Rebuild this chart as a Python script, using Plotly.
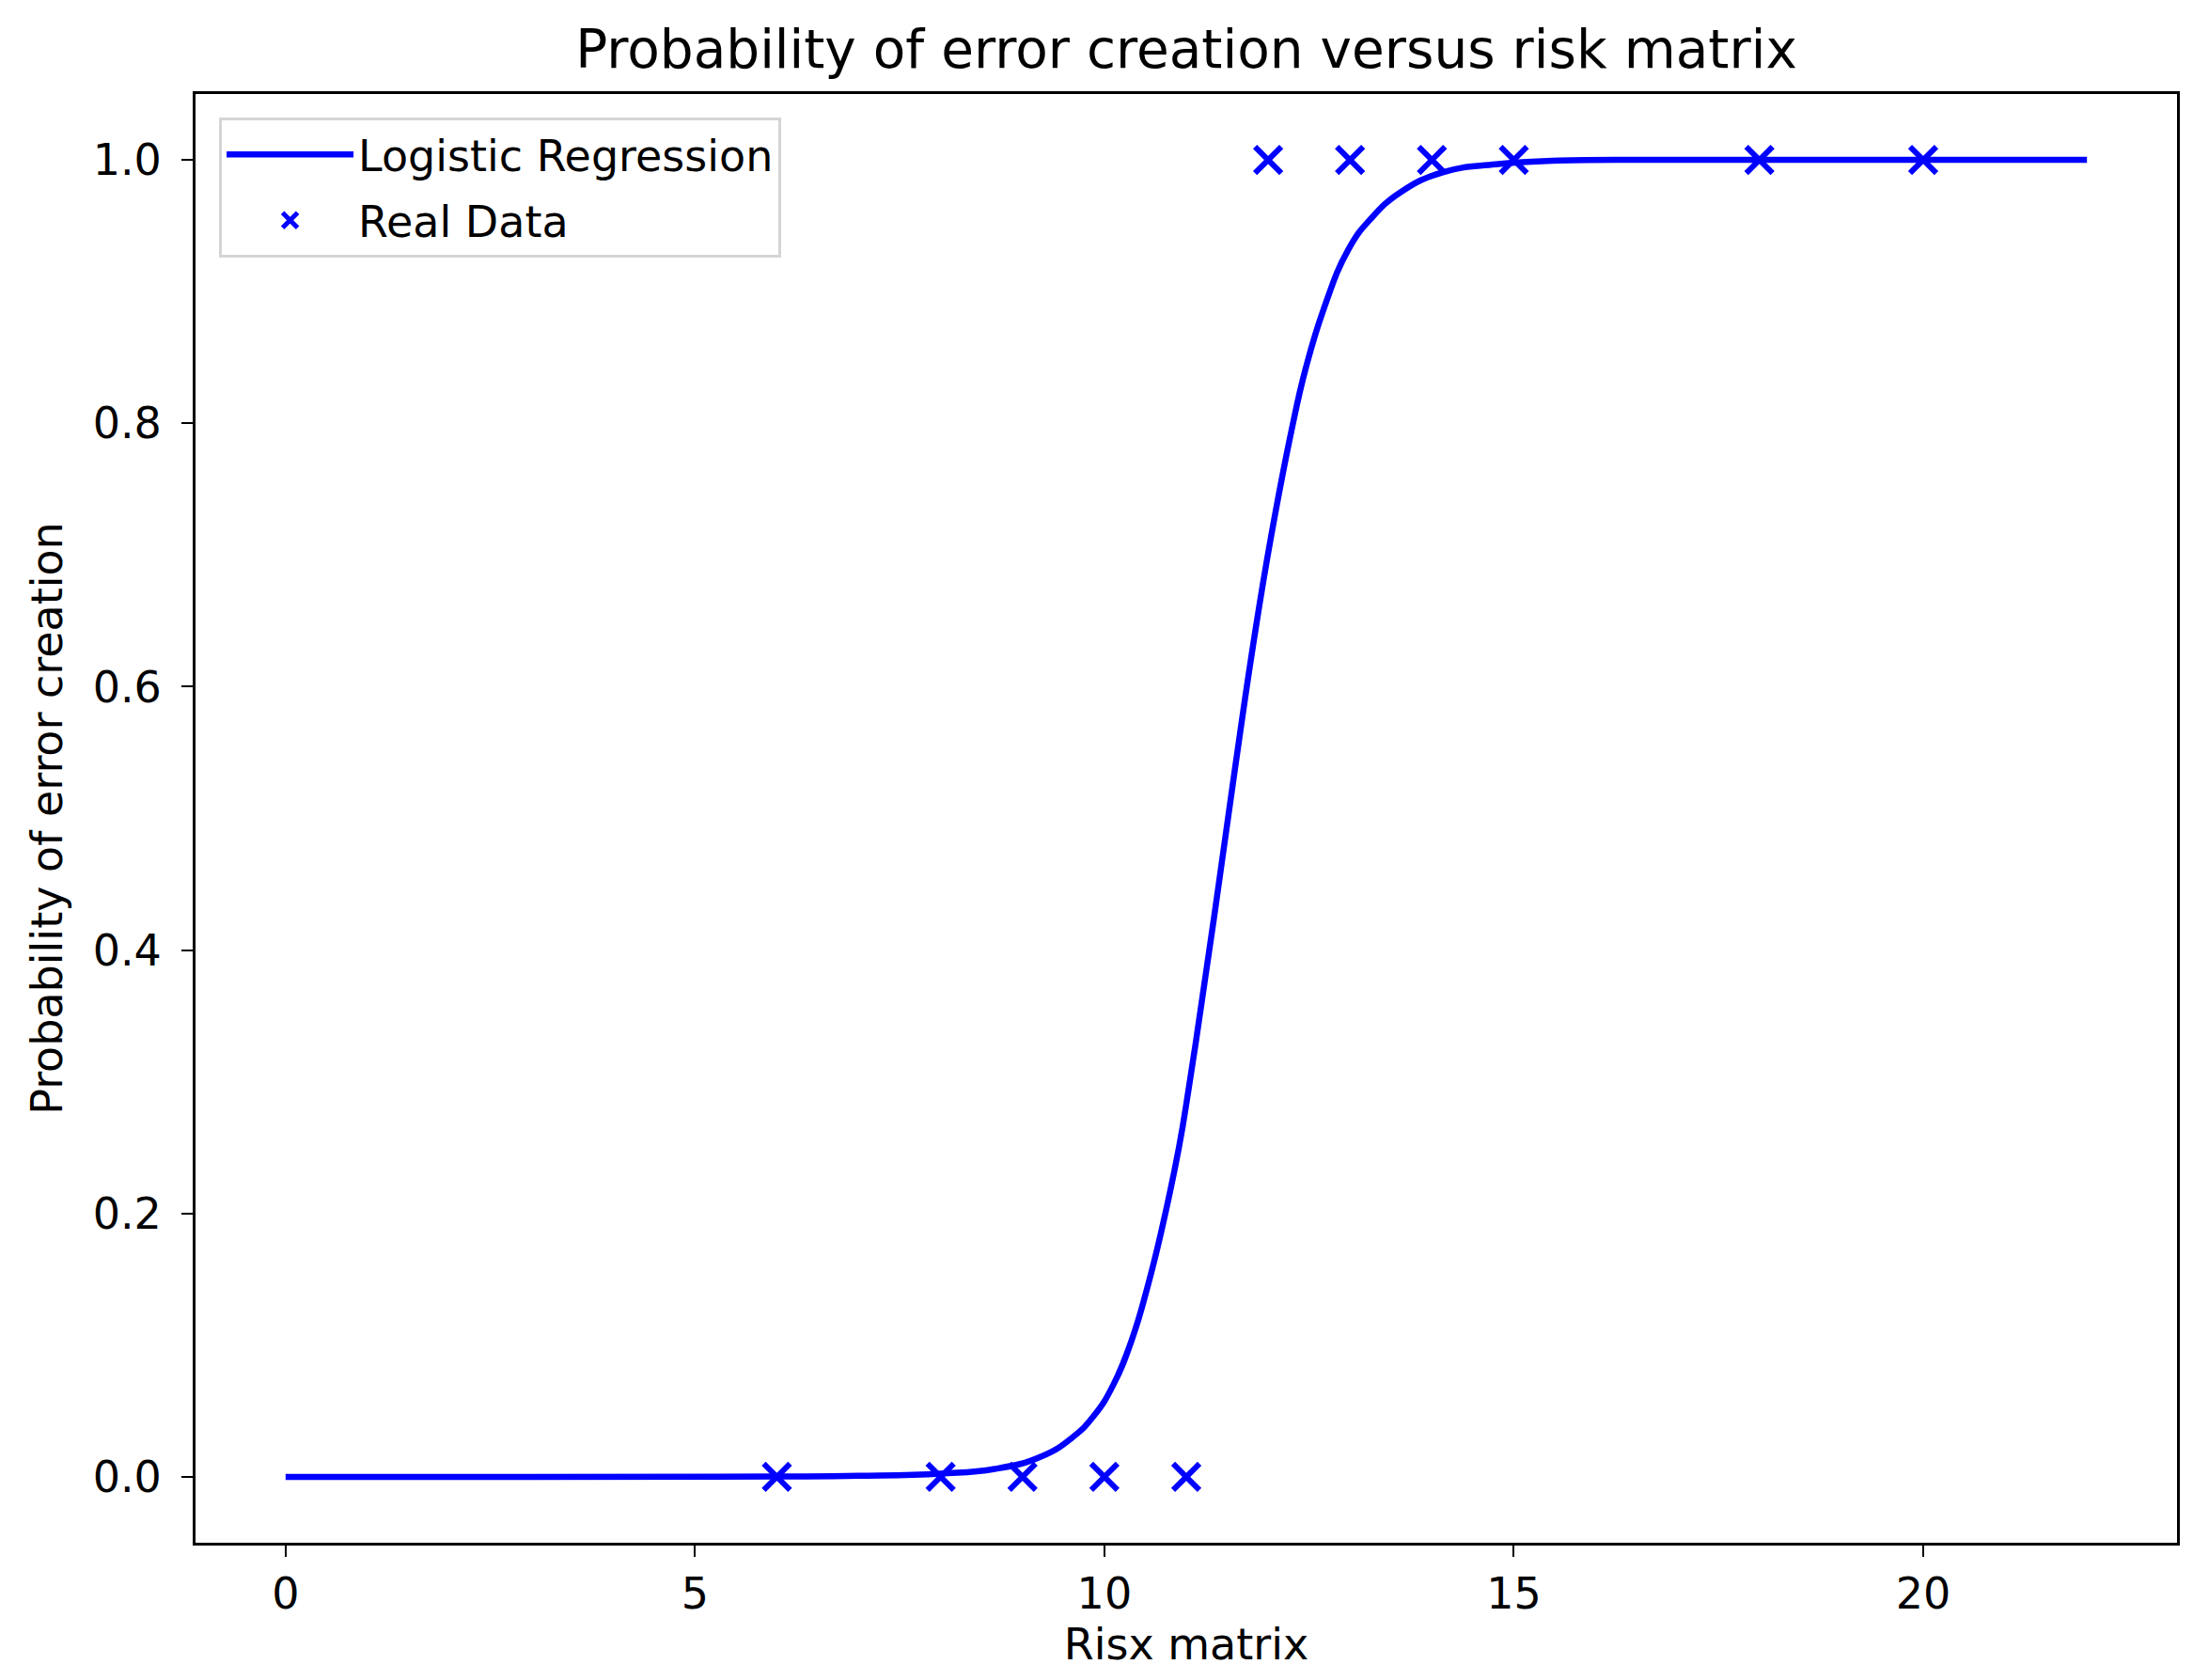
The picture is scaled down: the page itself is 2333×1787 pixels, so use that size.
import plotly.graph_objects as go

# fitted logistic curve
curve_x = [0, 3, 6, 7, 8, 8.66, 9.23, 9.61, 9.88, 10.11, 10.34, 10.53, 10.69,
           10.91, 11.03, 11.34, 11.6, 11.83, 12.03, 12.29, 12.46, 12.68,
           12.98, 13.25, 13.63, 14.13, 14.78, 15.55, 17, 19, 22]
curve_y = [0, 0, 0.0003, 0.0008, 0.0025, 0.006, 0.0155, 0.03, 0.047, 0.07,
           0.105, 0.145, 0.185, 0.25, 0.295, 0.425, 0.54, 0.637, 0.712,
           0.796, 0.842, 0.887, 0.932, 0.955, 0.976, 0.9905, 0.9966, 0.9995,
           1, 1, 1]

# observed points
risk = [6, 8, 9, 10, 11, 12, 13, 14, 15, 18, 20]
error = [0, 0, 0, 0, 0, 1, 1, 1, 1, 1, 1]

font = "DejaVu Sans"

fig = go.Figure()
fig.add_trace(go.Scatter(
    x=curve_x, y=curve_y, mode="lines", name="Logistic Regression",
    legendgroup="fit",
    line=dict(color="#0000ff", width=6.5, shape="spline", smoothing=1.3),
))
fig.add_trace(go.Scatter(
    x=risk, y=error, mode="markers", name="Real Data",
    legendgroup="data",
    marker=dict(symbol="x-thin-open", size=28, color="#0000ff",
                line=dict(color="#0000ff", width=6)),
))

axis_common = dict(
    showgrid=False, zeroline=False, showline=True, mirror=True,
    linecolor="black", linewidth=3, ticks="outside", ticklen=12,
    tickwidth=2, tickcolor="black",
    tickfont=dict(family=font, size=46, color="black"),
)

fig.update_layout(
    width=2333, height=1787,
    paper_bgcolor="white", plot_bgcolor="white",
    margin=dict(l=200, r=25, t=92, b=154),
    title=dict(text="Probability of error creation versus risk matrix",
               font=dict(family=font, size=56.5, color="black"),
               x=0.5, xref="paper", xanchor="center",
               y=0.975, yanchor="middle", yref="container"),
    xaxis=dict(range=[-1.1, 23.1], tickvals=[0, 5, 10, 15, 20],
               title=dict(text="Risx matrix", standoff=12,
                          font=dict(family=font, size=46, color="black")),
               **axis_common),
    yaxis=dict(range=[-0.05, 1.05], tickvals=[0, 0.2, 0.4, 0.6, 0.8, 1.0],
               tickformat=".1f", ticklabelstandoff=12,
               title=dict(text="Probability of error creation", standoff=18,
                          font=dict(family=font, size=46, color="black")),
               **axis_common),
    legend=dict(x=0.0119, y=0.9838, xanchor="left", yanchor="top",
                bgcolor="rgba(255,255,255,0.9)", bordercolor="#d5d5d5",
                borderwidth=3, itemwidth=135, tracegroupgap=7,
                font=dict(family=font, size=46, color="black")),
    showlegend=True,
)

fig.write_html("out.html")
